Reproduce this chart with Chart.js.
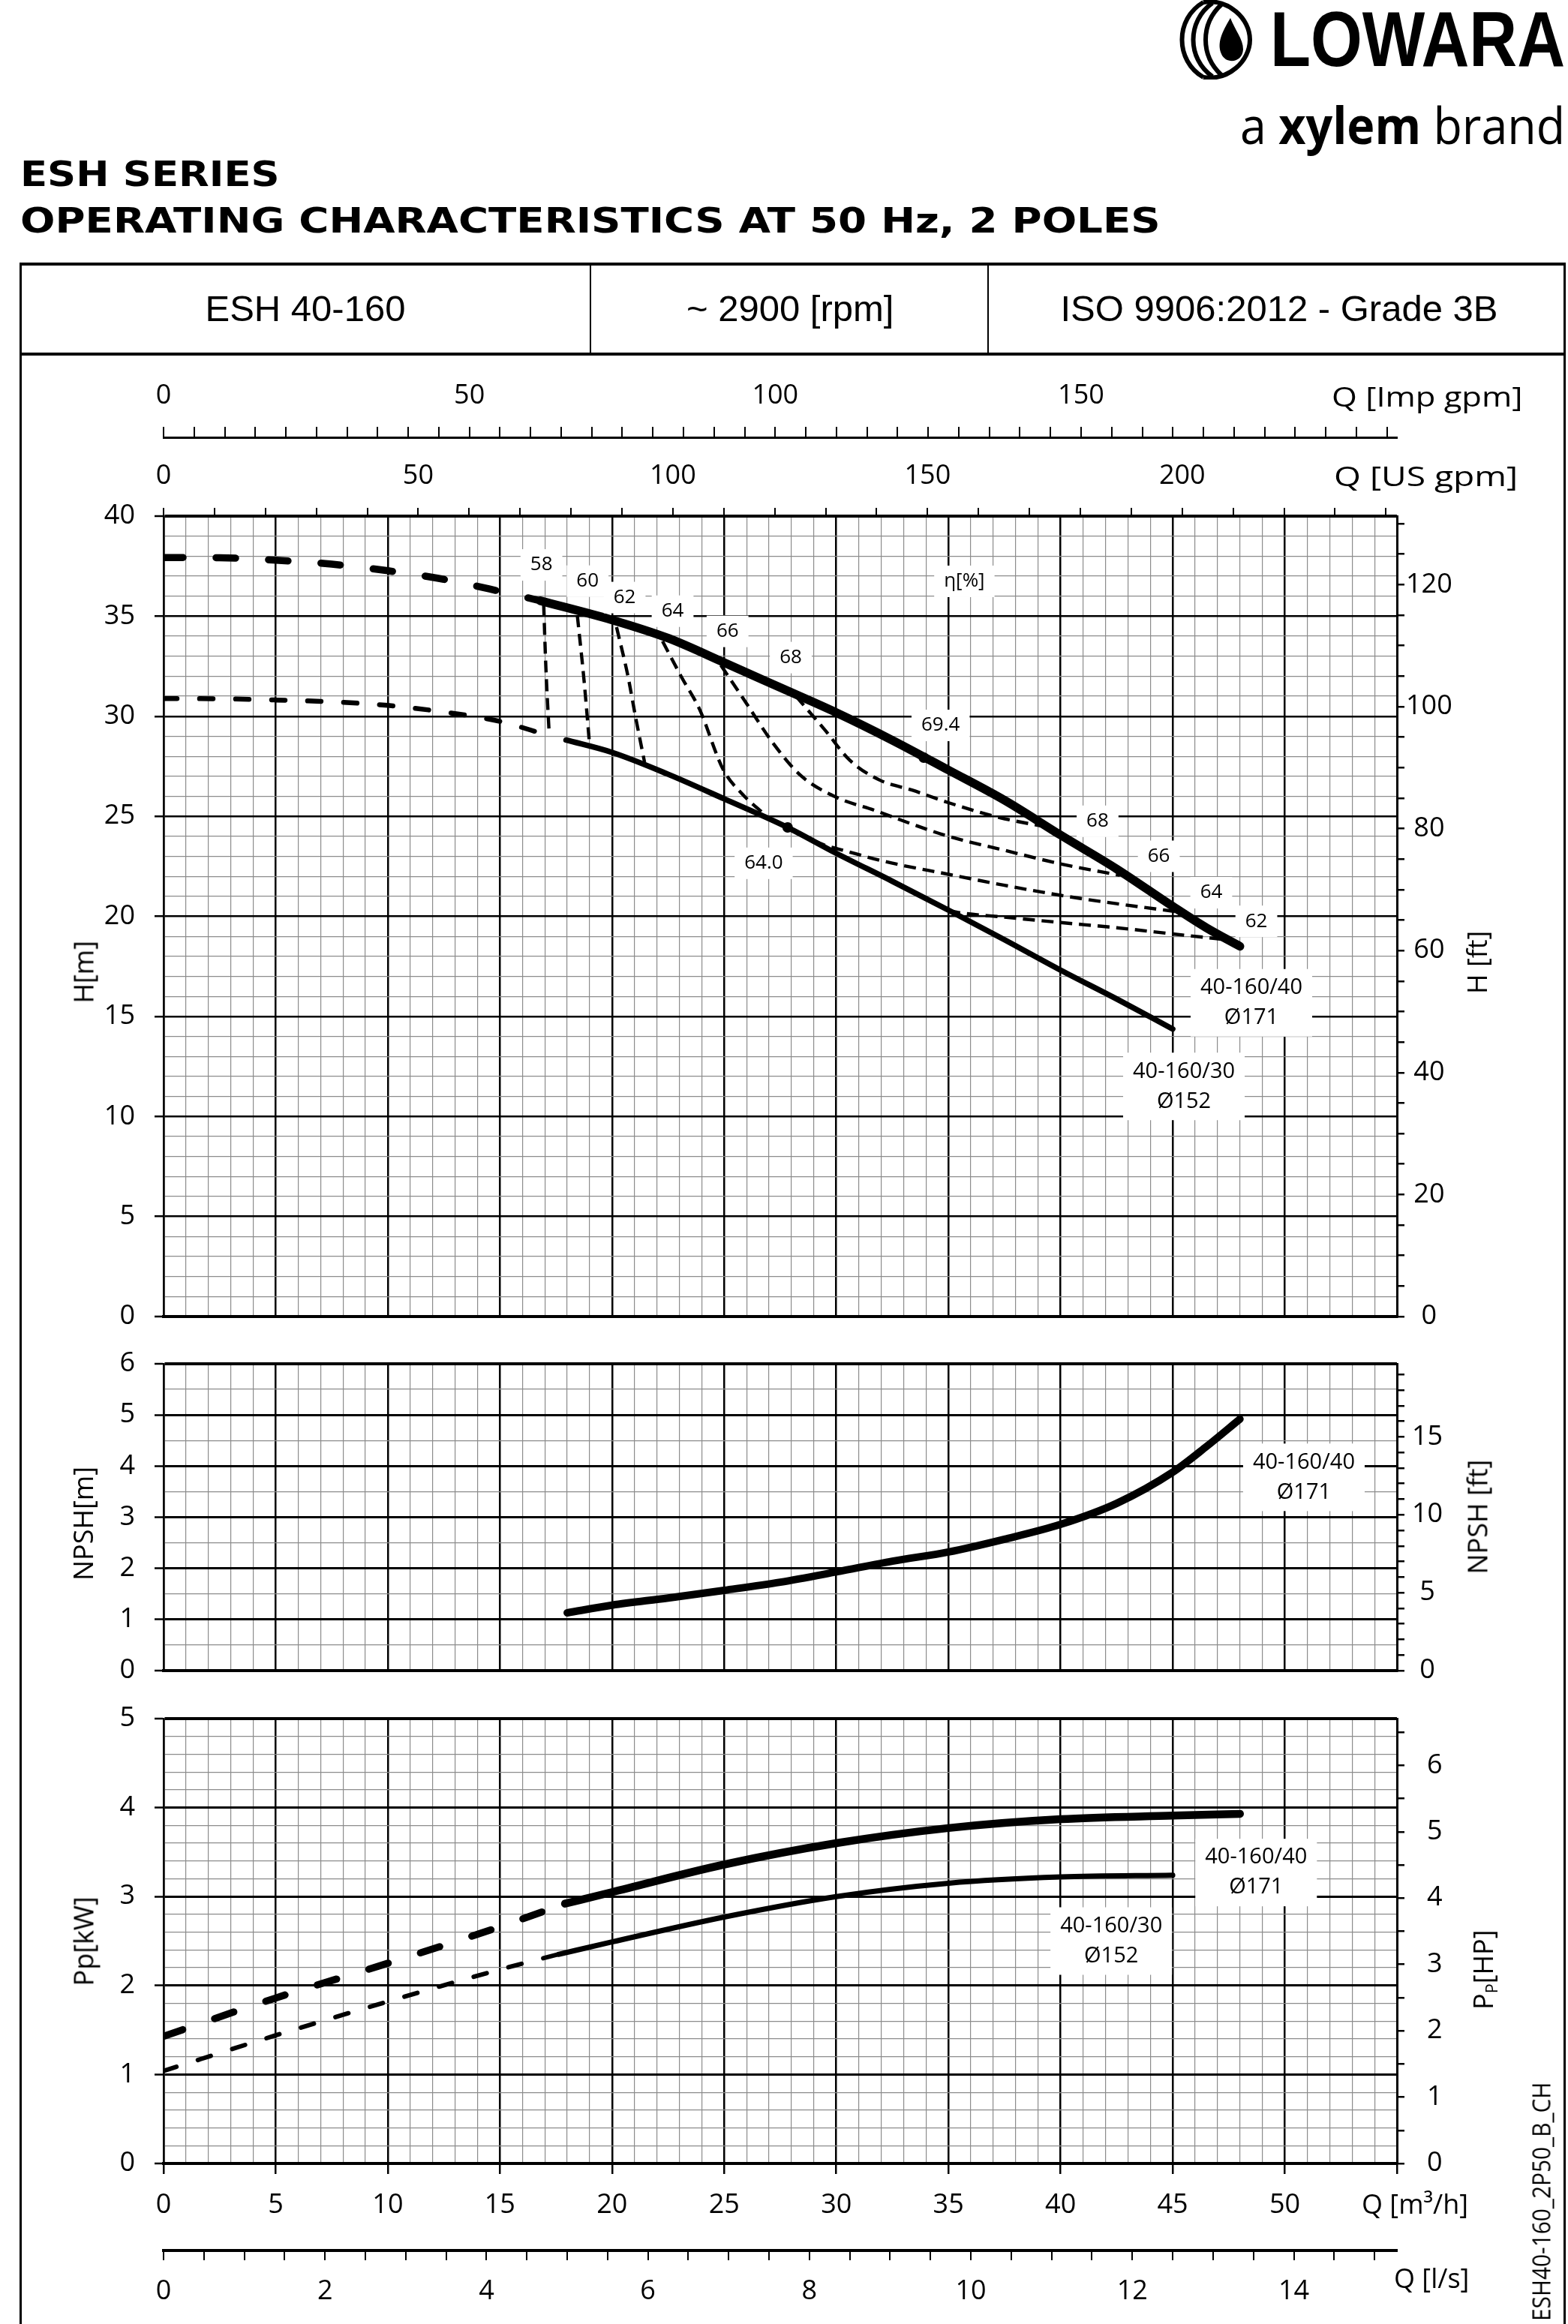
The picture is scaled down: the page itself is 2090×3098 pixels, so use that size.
<!DOCTYPE html>
<html>
<head>
<meta charset="utf-8">
<title>ESH 40-160 operating characteristics</title>
<script src="https://cdn.jsdelivr.net/npm/chart.js@4.4.1/dist/chart.umd.min.js"></script>
<style>
  html, body { margin: 0; padding: 0; background: #fff; }
  body { position: relative; width: 2090px; height: 3098px; overflow: hidden; color: #000; font-family: 'Open Sans', sans-serif; }
  .txt { position: absolute; white-space: nowrap; line-height: 1; }
  .bar { position: absolute; background: #000; }
  canvas { position: absolute; left: 0; }
</style>
</head>
<body>
<!-- page frame and header table -->
<div class="bar" style="left:26px;top:350px;width:2.5px;height:2748px"></div>
<div class="bar" style="left:2084px;top:350px;width:2.5px;height:2748px"></div>
<div class="bar" style="left:26px;top:350px;width:2061px;height:4px"></div>
<div class="bar" style="left:26px;top:470px;width:2061px;height:4px"></div>
<div class="bar" style="left:786px;top:352px;width:2px;height:120px"></div>
<div class="bar" style="left:1316px;top:352px;width:2px;height:120px"></div>

<svg style="position:absolute;left:1558px;top:0" width="112" height="106" viewBox="0 0 112 106">
  <g fill="none" stroke="#000" stroke-width="6">
    <path d="M46 3 C 8 25, 8 81, 46 103"/>
    <path d="M58 4 C 24 28, 24 78, 58 102"/>
    <path d="M70 6 C 42 32, 42 74, 70 100"/>
    <path d="M46 3 C 80 -2, 108 25, 108 53 C 108 81, 80 108, 46 103"/>
  </g>
  <path d="M82 24 C 70 44, 64 58, 70 72 C 76 86, 98 84, 99 66 C 99 52, 88 40, 82 24 Z" fill="#000"/>
</svg>

<canvas id="cH" width="2090" height="1300" style="top:490px"></canvas>
<canvas id="cN" width="2090" height="464" style="top:1785px"></canvas>
<canvas id="cP" width="2090" height="836" style="top:2262px"></canvas>

<script>
// ---------- data read from the ESH 40-160 sheet (Q in m3/h) ----------
// head H [m], impeller 171 (40-160/40): dashed part, then solid part
const h171DashQ = [0, 2.5, 5, 7.5, 10, 12.5, 15, 16.8];
const h171DashH = [37.93, 37.92, 37.8, 37.6, 37.27, 36.84, 36.24, 35.77];
const h171Q = [16.8, 20, 22.5, 25, 27.5, 30, 32.5, 35, 37.5, 40, 42.5, 45, 46.5, 48];
const h171H = [35.77, 34.81, 33.9, 32.68, 31.43, 30.18, 28.8, 27.31, 25.8, 24.06, 22.37, 20.5, 19.43, 18.5];
// head H [m], impeller 152 (40-160/30)
const h152DashQ = [0, 2.5, 5, 7.5, 10, 12.5, 15, 17.1];
const h152DashH = [30.88, 30.87, 30.81, 30.72, 30.54, 30.21, 29.74, 29.06];
const h152Q = [17.95, 20, 22.5, 25, 27.83, 30, 32.5, 35, 37.5, 40, 42.5, 45];
const h152H = [28.81, 28.19, 27.1, 25.87, 24.44, 23.15, 21.75, 20.31, 18.83, 17.31, 15.87, 14.37];
// best efficiency points (69.4 % on 171, 64.0 % on 152)
const bepQ = [33.9, 27.83];
const bepH = [27.93, 24.44];

// iso-efficiency lines [%]
const eta58Q = [16.95, 17.05, 17.2];
const eta58H = [35.6, 32.4, 29.05];
const eta60Q = [18.45, 18.75, 19.0];
const eta60H = [35.05, 31.8, 28.55];
const eta62Q = [20.2, 20.7, 21.05, 21.45];
const eta62H = [34.45, 32.05, 29.95, 27.7];
const eta64Q = [22.25, 23.1, 23.9, 24.95, 25.8, 26.9];
const eta64H = [33.75, 31.95, 30.35, 27.35, 26.12, 25.0];
const eta64bQ = [29.0, 29.45, 30.5, 32.2, 35.0, 37.5, 40.0, 42.5, 45.4];
const eta64bH = [23.78, 23.57, 23.24, 22.73, 22.1, 21.55, 21.05, 20.63, 20.2];
const eta66Q = [24.85, 25.9, 27.15, 28.4, 30.0, 31.7, 33.4, 35.0, 37.5, 40.0, 42.65];
const eta66H = [32.55, 30.8, 28.7, 27.05, 25.95, 25.3, 24.6, 24.0, 23.3, 22.62, 22.05];
const eta68Q = [28.2, 29.5, 30.6, 31.95, 33.4, 35.0, 37.3, 39.2];
const eta68H = [31.0, 29.3, 27.8, 26.8, 26.3, 25.68, 24.93, 24.5];
const eta62bQ = [35.0, 35.5, 37.5, 40.0, 42.5, 45.0, 47.4];
const eta62bH = [20.3, 20.18, 19.96, 19.69, 19.43, 19.12, 18.83];

// NPSH [m], impeller 171
const npshQ = [18, 20, 22.5, 25, 27.5, 30, 32.5, 35, 37.5, 40, 42.5, 45, 46.5, 48];
const npshM = [1.13, 1.28, 1.42, 1.57, 1.73, 1.93, 2.14, 2.32, 2.57, 2.86, 3.27, 3.88, 4.38, 4.92];

// shaft power Pp [kW]
const p171DashQ = [0, 5, 10, 15, 17.9];
const p171DashP = [1.43, 1.86, 2.25, 2.66, 2.92];
const p171Q = [17.9, 20, 25, 30, 35, 40, 45, 48];
const p171P = [2.92, 3.05, 3.36, 3.6, 3.77, 3.87, 3.91, 3.93];
const p152DashQ = [0, 5, 10, 15, 17.6];
const p152DashP = [1.04, 1.44, 1.82, 2.18, 2.35];
const p152Q = [17.6, 20, 25, 30, 35, 40, 45];
const p152P = [2.35, 2.49, 2.77, 3.0, 3.15, 3.22, 3.24];

// labels on the curves
const hNotes = [
  { t: '58', q: 16.85, v: 37.56 }, { t: '60', q: 18.91, v: 36.75 }, { t: '62', q: 20.56, v: 35.93 },
  { t: '64', q: 22.7, v: 35.25 }, { t: '66', q: 25.15, v: 34.24 }, { t: '68', q: 27.97, v: 32.93 },
  { t: 'η[%]', q: 35.71, v: 36.74 }, { t: '69.4', q: 34.65, v: 29.54 }, { t: '64.0', q: 26.76, v: 22.65 },
  { t: '68', q: 41.65, v: 24.75 }, { t: '66', q: 44.38, v: 23.0 }, { t: '64', q: 46.72, v: 21.18 },
  { t: '62', q: 48.73, v: 19.75 },
  { t: '40-160/40\nØ171', q: 48.51, v: 15.68 }, { t: '40-160/30\nØ152', q: 45.5, v: 11.5 }
];
const nNotes = [{ t: '40-160/40\nØ171', q: 50.85, v: 3.78 }];
const pNotes = [{ t: '40-160/40\nØ171', q: 48.72, v: 3.27 }, { t: '40-160/30\nØ152', q: 42.26, v: 2.5 }];

// unit conversions for the secondary axes
const M3H_PER_IMPGPM = 0.272765, M3H_PER_USGPM = 0.227125, M3H_PER_LS = 3.6;
const M_PER_FT = 0.3048, KW_PER_HP = 0.7457;

// ---------- text helpers ----------
function putText(html, o) {
  const el = document.createElement('div');
  el.className = 'txt';
  el.style.font = o.font;
  el.innerHTML = html + '<span style="display:inline-block;width:0;height:0;vertical-align:baseline"></span>';
  document.body.appendChild(el);
  const w = el.offsetWidth;
  const base = el.lastChild.offsetTop;
  const sx = o.width ? o.width / w : 1;
  const ax = o.align === 'left' ? 0 : w / 2;
  el.style.left = (o.x - ax) + 'px';
  el.style.top = (o.y - base) + 'px';
  el.style.transformOrigin = ax + 'px ' + base + 'px';
  el.style.transform = (o.rot ? 'rotate(' + o.rot + 'deg) ' : '') + 'scaleX(' + sx + ')';
}

const F = "36px 'Open Sans'";
putText('ESH SERIES', { font: "bold 46px 'DejaVu Sans'", x: 27, y: 248, align: 'left', width: 346 });
putText('OPERATING CHARACTERISTICS AT 50 Hz, 2 POLES', { font: "bold 46px 'DejaVu Sans'", x: 27, y: 310, align: 'left', width: 1520 });
putText('ESH 40-160', { font: "49px 'Liberation Sans'", x: 407, y: 428 });
putText('~ 2900 [rpm]', { font: "49px 'Liberation Sans'", x: 1053, y: 428 });
putText('ISO 9906:2012 - Grade 3B', { font: "49px 'Liberation Sans'", x: 1705, y: 428 });
putText('LOWARA', { font: "bold 104px 'Liberation Sans'", x: 1693, y: 88, align: 'left', width: 393 });
putText('a <b>xylem</b> brand', { font: "68px 'Open Sans'", x: 1653, y: 192, align: 'left', width: 433 });

putText('Q [Imp gpm]', { font: F, x: 1775, y: 542, align: 'left', width: 255 });
putText('Q [US gpm]', { font: F, x: 1778, y: 648, align: 'left', width: 245 });
putText('Q [m³/h]', { font: F, x: 1815, y: 2951, align: 'left' });
putText('Q [l/s]', { font: F, x: 1858, y: 3050, align: 'left' });
putText('H[m]', { font: F, x: 124, y: 1296, rot: -90 });
putText('NPSH[m]', { font: F, x: 124, y: 2031, rot: -90 });
putText('Pp[kW]', { font: F, x: 124, y: 2588, rot: -90 });
putText('H [ft]', { font: F, x: 1982, y: 1283, rot: -90 });
putText('NPSH [ft]', { font: F, x: 1982, y: 2022, rot: -90 });
putText('P<span style="font-size:0.6em;vertical-align:-0.3em">P</span>[HP]', { font: F, x: 1990, y: 2626, rot: -90 });
putText('ESH40-160_2P50_B_CH', { font: "32px 'Open Sans'", x: 2066, y: 2935, rot: -90, width: 318 });

// ---------- chart helpers ----------
Chart.defaults.font.family = "'Open Sans', sans-serif";
Chart.defaults.font.size = 36;
Chart.defaults.color = '#000';

const BLACK = '#000', GRAY = '#8c8c8c', NONE = 'rgba(0,0,0,0)';
const major = (v, step) => Math.abs(v / step - Math.round(v / step)) < 1e-6;
const tv = c => (c.tick ? c.tick.value : 0);

// fixed box sizes so the plot areas land where the sheet has them
const fixH = h => s => { s.height = h; s.paddingLeft = 0; s.paddingRight = 0; };
const fixW = w => s => { s.width = w; s.paddingTop = 0; s.paddingBottom = 0; };

const notesPlugin = {
  id: 'notes',
  afterDatasetsDraw(chart, args, opts) {
    const ctx = chart.ctx, sx = chart.scales.x, sy = chart.scales.y;
    for (const n of opts.items || []) {
      const lines = n.t.split('\n');
      const two = lines.length > 1;
      const size = two ? 29 : 26;
      ctx.save();
      ctx.font = size + "px 'Open Sans'";
      const w = Math.max(...lines.map(s => ctx.measureText(s).width)) + 26;
      const h = two ? 90 : 42;
      const px = sx.getPixelForValue(n.q), py = sy.getPixelForValue(n.v);
      ctx.fillStyle = '#fff';
      ctx.fillRect(px - w / 2, py - h / 2, w, h);
      ctx.fillStyle = BLACK;
      ctx.textAlign = 'center';
      ctx.textBaseline = 'middle';
      lines.forEach((s, i) => ctx.fillText(s, px, py + (i - (lines.length - 1) / 2) * 40));
      ctx.restore();
    }
  }
};

const pts = (qs, vs) => qs.map((q, i) => ({ x: q, y: vs[i] }));
function curve(qs, vs, width, dash, roundDash) {
  return {
    type: 'line', data: pts(qs, vs), borderColor: BLACK, borderWidth: width,
    borderDash: dash || [], borderCapStyle: (!dash || roundDash) ? 'round' : 'butt',
    borderJoinStyle: 'round', pointRadius: 0, fill: false,
    cubicInterpolationMode: 'monotone', xAxisID: 'x', yAxisID: 'y'
  };
}
function iso(qs, vs) { return curve(qs, vs, 4.4, [16, 9]); }

function qScale(h, labels) {
  return {
    type: 'linear', position: 'bottom', min: 0, max: 55, weight: 0,
    ticks: { display: labels, stepSize: 1, autoSkip: false, maxRotation: 0, padding: 20,
             callback: v => (major(v, 5) && v < 55) ? String(v) : '' },
    grid: {
      color: c => major(tv(c), 5) ? BLACK : GRAY,
      lineWidth: c => major(tv(c), 5) ? 2.5 : 1.2,
      drawTicks: labels, tickLength: 14,
      tickColor: c => major(tv(c), 5) ? BLACK : NONE, tickWidth: 2.5
    },
    border: { display: true, color: BLACK, width: 4 },
    afterFit: fixH(h)
  };
}
function leftScale(max, step, majorStep, majorWidth) {
  return {
    type: 'linear', position: 'left', min: 0, max: max,
    ticks: { stepSize: step, autoSkip: false, padding: 26,
             callback: v => major(v, majorStep) ? String(Math.round(v)) : '' },
    grid: {
      color: c => major(tv(c), majorStep) ? BLACK : GRAY,
      lineWidth: c => {
        const v = tv(c);
        if (Math.abs(v) < 1e-6 || Math.abs(v - max) < 1e-6) return 4;
        return major(v, majorStep) ? majorWidth : 1.2;
      },
      tickLength: 12, tickColor: c => major(tv(c), majorStep) ? BLACK : NONE, tickWidth: 2.5
    },
    border: { display: true, color: BLACK, width: 2.5 },
    afterFit: fixW(218)
  };
}
function rightScale(max, step, labelStep, pad) {
  return {
    type: 'linear', position: 'right', min: 0, max: max,
    ticks: { stepSize: step, autoSkip: false, includeBounds: false, padding: pad, crossAlign: 'center',
             callback: v => major(v, labelStep) ? String(Math.round(v)) : '' },
    grid: { drawOnChartArea: false, tickLength: 10, color: BLACK, lineWidth: 2.5 },
    border: { display: true, color: BLACK, width: 3 },
    afterFit: fixW(228)
  };
}
function topScale(max, step, labelStep, labelMax, tick, pad, h, weight, border) {
  return {
    type: 'linear', position: 'top', min: 0, max: max, weight: weight,
    ticks: { stepSize: step, autoSkip: false, includeBounds: false, padding: pad, maxRotation: 0,
             callback: v => (major(v, labelStep) && v <= labelMax) ? String(Math.round(v)) : '' },
    grid: { drawOnChartArea: false, tickLength: tick, color: BLACK, lineWidth: 2 },
    border: border ? { display: true, color: BLACK, width: 3 } : { display: false },
    afterFit: fixH(h)
  };
}
function base(datasets, scales, notes, padTop) {
  return {
    data: { datasets: datasets },
    options: {
      responsive: false, animation: false, devicePixelRatio: 1, events: [],
      layout: { padding: { top: padTop || 0, left: 0, right: 0, bottom: 0 } },
      plugins: { legend: { display: false }, tooltip: { enabled: false }, notes: { items: notes } },
      scales: scales
    },
    plugins: [notesPlugin]
  };
}

// ---------- H chart ----------
const bep = {
  type: 'line', data: pts(bepQ, bepH), showLine: false, pointRadius: 7,
  pointBackgroundColor: BLACK, pointBorderWidth: 0, xAxisID: 'x', yAxisID: 'y'
};
new Chart(document.getElementById('cH'), base([
  bep,
  curve(h171Q, h171H, 11.5),
  curve(h171DashQ, h171DashH, 9.5, [26, 44], true),
  curve(h152Q, h152H, 7.5),
  curve(h152DashQ, h152DashH, 6.5, [18, 30], true),
  iso(eta58Q, eta58H), iso(eta60Q, eta60H), iso(eta62Q, eta62H),
  iso(eta64Q, eta64H), iso(eta64bQ, eta64bH), iso(eta66Q, eta66H),
  iso(eta68Q, eta68H), iso(eta62bQ, eta62bH)
], {
  x: qScale(35, false),
  y: leftScale(40, 1, 5, 2.5),
  yFt: rightScale(40 / M_PER_FT, 5, 20, 2),
  xUs: topScale(55 / M3H_PER_USGPM, 10, 50, 200, 11, 21, 105, 0, false),
  xImp: topScale(55 / M3H_PER_IMPGPM, 5, 50, 150, 14, 20, 93, 1, true)
}, hNotes));

// ---------- NPSH chart ----------
new Chart(document.getElementById('cN'), base([
  curve(npshQ, npshM, 10)
], {
  x: qScale(22, false),
  y: leftScale(6, 0.5, 1, 3),
  yFt: rightScale(6 / M_PER_FT, 1, 5, 10)
}, nNotes, 33));

// ---------- Pp chart ----------
const xLs = {
  type: 'linear', position: 'bottom', min: 0, max: 55 / M3H_PER_LS, weight: 1,
  ticks: { stepSize: 0.5, autoSkip: false, includeBounds: false, padding: 20, maxRotation: 0,
           callback: v => (major(v, 2) && v <= 14) ? String(Math.round(v)) : '' },
  grid: { drawOnChartArea: false, tickLength: 13, color: BLACK, lineWidth: 2 },
  border: { display: true, color: BLACK, width: 4 },
  afterFit: fixH(98)
};
new Chart(document.getElementById('cP'), base([
  curve(p171Q, p171P, 10.5),
  curve(p171DashQ, p171DashP, 9.5, [27, 45], true),
  curve(p152Q, p152P, 7),
  curve(p152DashQ, p152DashP, 6, [18, 30], true)
], {
  x: qScale(116, true),
  xLs: xLs,
  y: leftScale(5, 0.2, 1, 3),
  yHp: rightScale(5 / KW_PER_HP, 0.5, 1, 30)
}, pNotes, 29));
</script>
</body>
</html>
